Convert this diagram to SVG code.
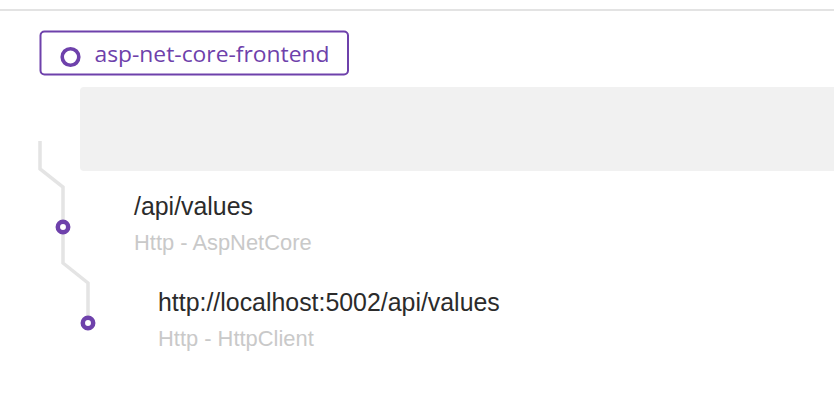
<svg xmlns="http://www.w3.org/2000/svg" width="834" height="400" viewBox="0 0 834 400">
<style>
.conn{fill:none;stroke:#e4e4e4;stroke-width:3.5;stroke-linejoin:miter}
.dot{fill:#ffffff;stroke:#6e41ab;stroke-width:4.5}
.title{font-family:"Liberation Sans",Arial,sans-serif;font-size:24.9px;fill:#2b2b2b}
.sub{font-family:"Liberation Sans",Arial,sans-serif;font-size:21.9px;fill:#c9c9c9}
</style>
<rect width="834" height="400" fill="#ffffff"/>
<line x1="0" y1="10" x2="834" y2="10" stroke="#e3e3e3" stroke-width="2"/>
<g id="service">
<rect x="40.5" y="31.5" width="307.5" height="43" rx="4" fill="#ffffff" stroke="#6e41ab" stroke-width="2"/>
<circle cx="70.5" cy="57" r="8.3" fill="none" stroke="#6e41ab" stroke-width="3.6"/>
<text x="94.5" y="61.5" font-family="'Open Sans','Noto Sans',sans-serif" font-size="22" fill="#6e41ab" textLength="235" lengthAdjust="spacingAndGlyphs">asp-net-core-frontend</text>
</g>
<g id="placeholder">
<path d="M84 87 H834 V171 H84 A4 4 0 0 1 80 167 V91 A4 4 0 0 1 84 87 Z" fill="#f1f1f1"/>
</g>
<g id="connectors">
<path class="conn" d="M40 141 V169 L63 187 V263 L88 283 V322"/>
</g>
<g id="span1">
<circle class="dot" cx="63" cy="227" r="5.2"/>
<text class="title" x="134" y="215">/api/values</text>
<text class="sub" x="134" y="250">Http - AspNetCore</text>
</g>
<g id="span2">
<circle class="dot" cx="88" cy="323" r="5.2"/>
<text class="title" x="158" y="311">http://localhost:5002/api/values</text>
<text class="sub" x="158" y="346">Http - HttpClient</text>
</g>
</svg>
